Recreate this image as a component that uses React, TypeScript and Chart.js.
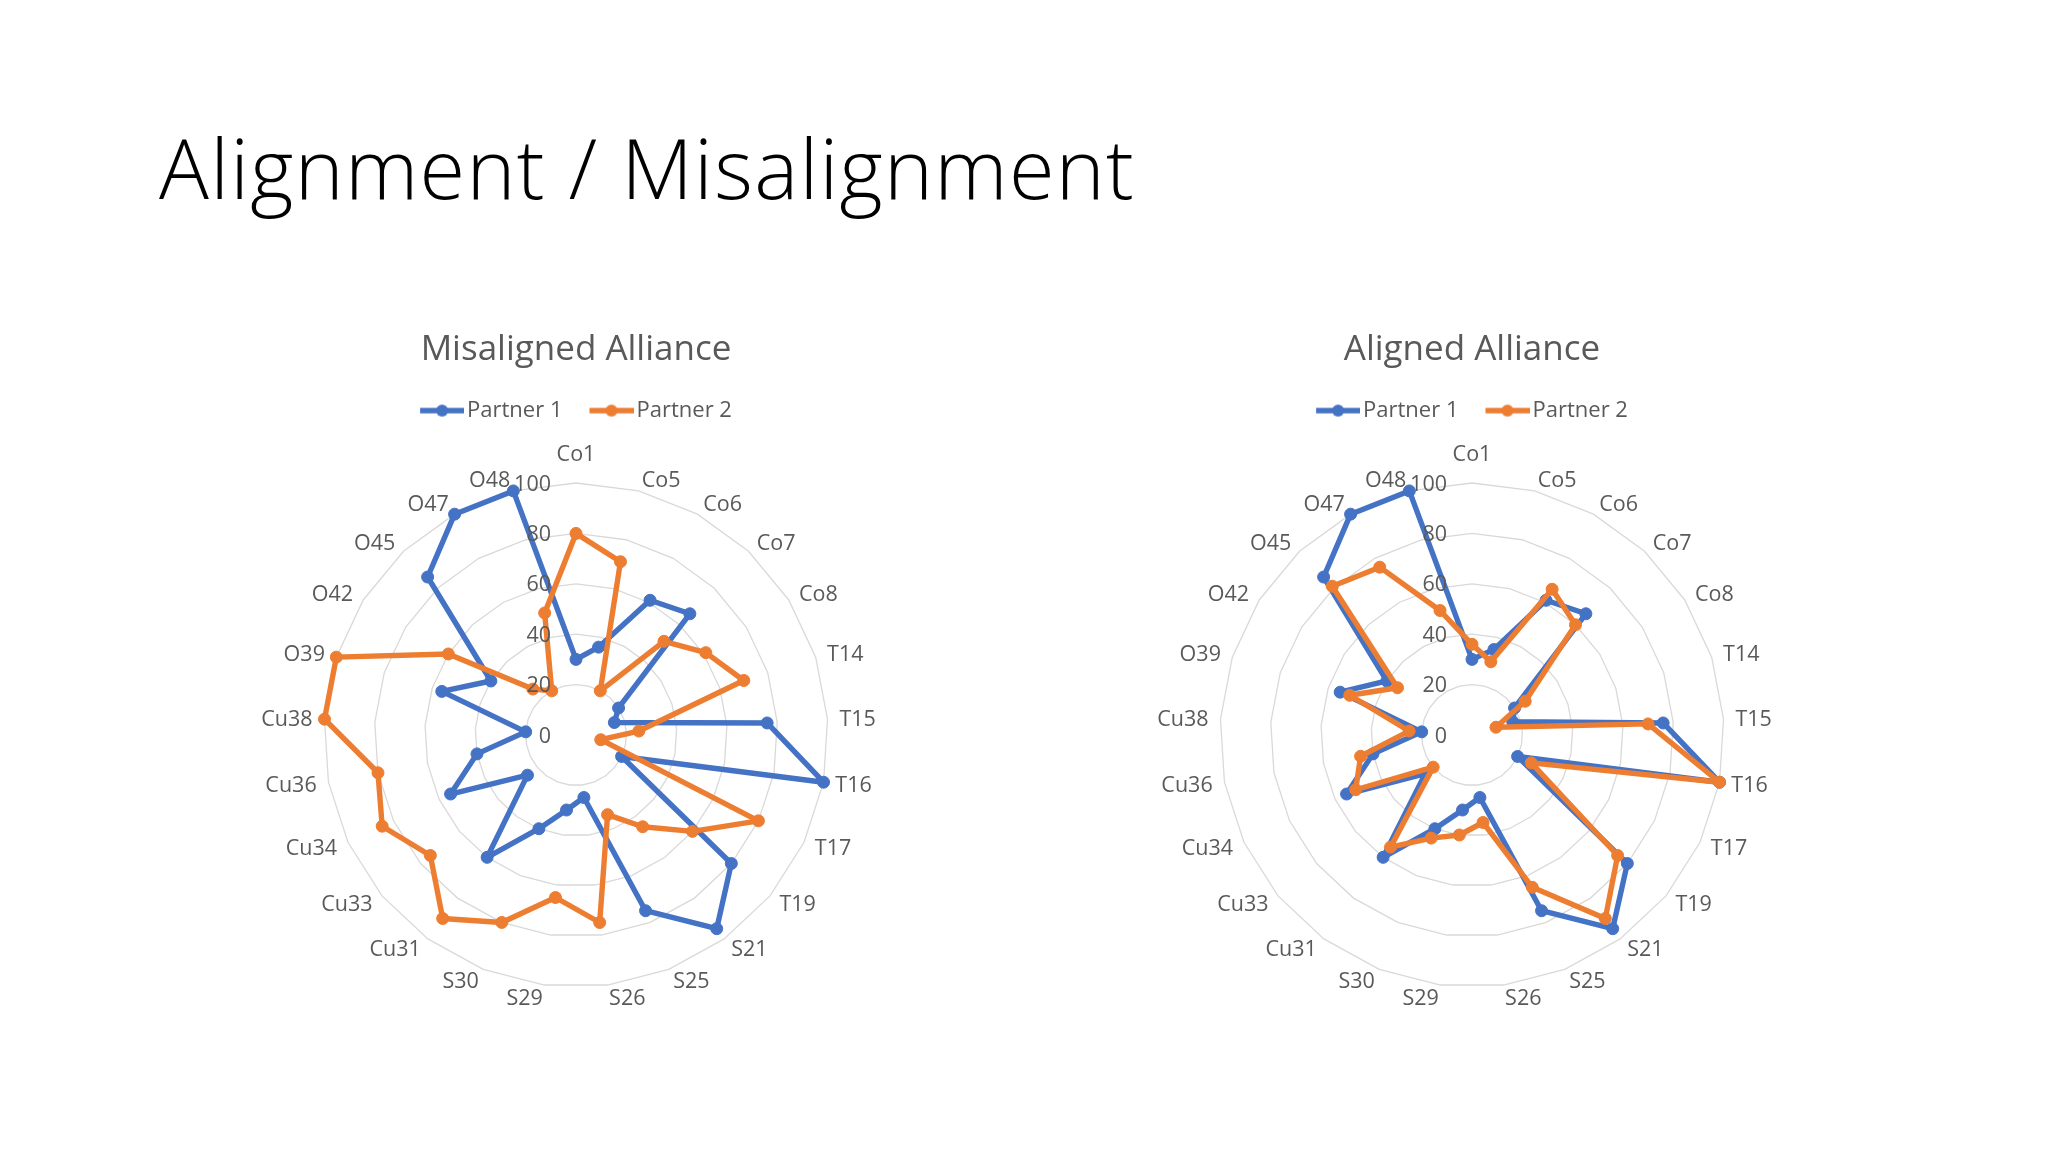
import React, { useEffect, useRef } from "react";
import { Chart, registerables } from "chart.js";

Chart.register(...registerables);

// ---------- data ----------
const categories = [
  "Co1", "Co5", "Co6", "Co7", "Co8", "T14", "T15", "T16", "T17", "T19",
  "S21", "S25", "S26", "S29", "S30", "Cu31", "Cu33", "Cu34", "Cu36", "Cu38",
  "O39", "O42", "O45", "O47", "O48",
];
const seriesNames = ["Partner 1", "Partner 2"];
const misalignedPartner1 = [30, 36, 61, 66, 20, 16, 76, 100, 20, 80, 95, 75, 25, 30, 40, 60, 25, 55, 40, 20, 56, 40, 86, 100, 100];
const misalignedPartner2 = [80, 71, 20, 51, 61, 70, 25, 10, 80, 60, 45, 34, 75, 65, 80, 90, 75, 85, 80, 100, 100, 60, 25, 20, 50];
const alignedPartner1 = [30, 35, 61, 66, 20, 17, 76, 100, 20, 80, 95, 75, 25, 30, 40, 60, 24, 55, 40, 20, 55, 40, 86, 100, 100];
const alignedPartner2 = [36, 30, 66, 60, 25, 10, 70, 100, 26, 75, 90, 65, 35, 40, 44, 55, 20, 51, 45, 25, 51, 35, 81, 76, 51];
const tickValues = [0, 20, 40, 60, 80, 100];
const pageTitle = "Alignment / Misalignment";
const chartTitles = ["Misaligned Alliance", "Aligned Alliance"];

// ---------- style ----------
const BLUE = "#4472C4";
const ORANGE = "#ED7D31";
const GRAY = "#595959";
const GRID = "#D9D9D9";
const FONT = "'Open Sans', 'Noto Sans', sans-serif";
const LABEL_SIZE = 21.5;
const LINE_W = 5.4;
const DOT_R = 6;

function legendSymbol(color: string): HTMLCanvasElement {
  // 52px wide image, centred on a 36px legend box: the visible symbol spans box x .. x+44
  const c = document.createElement("canvas");
  c.width = 52;
  c.height = 14;
  const ctx = c.getContext("2d")!;
  ctx.strokeStyle = color;
  ctx.lineWidth = LINE_W;
  ctx.beginPath();
  ctx.moveTo(8, 7);
  ctx.lineTo(52, 7);
  ctx.stroke();
  ctx.fillStyle = color;
  ctx.beginPath();
  ctx.arc(30, 7, DOT_R, 0, Math.PI * 2);
  ctx.fill();
  return c;
}

const radarTextPlugin = {
  id: "radarText",
  afterDatasetsDraw(chart: any) {
    const s = chart.scales.r;
    const ctx = chart.ctx;
    const labels: string[] = chart.data.labels;
    const n = labels.length;
    ctx.save();
    ctx.fillStyle = GRAY;
    ctx.font = `${LABEL_SIZE}px ${FONT}`;
    ctx.textBaseline = "middle";
    labels.forEach((lab, i) => {
      const p = s.getPointPosition(i, s.drawingArea + 12);
      const deg = (i * 360) / n;
      let y = p.y + 1.5;
      if (i === 0) {
        ctx.textAlign = "center";
        y -= 18;
      } else if (deg < 180) {
        ctx.textAlign = "left";
      } else {
        ctx.textAlign = "right";
      }
      ctx.fillText(lab, p.x, y);
    });
    ctx.textAlign = "right";
    tickValues.forEach((v) => {
      const d = s.getDistanceFromCenterForValue(v);
      ctx.fillText(String(v), s.xCenter - 25, s.yCenter - d + 1.5);
    });
    ctx.restore();
  },
};

function RadarPanel({ title, p1, p2, cx }: { title: string; p1: number[]; p2: number[]; cx: number }) {
  const ref = useRef<HTMLCanvasElement>(null);
  useEffect(() => {
    let chart: Chart | null = null;
    let cancelled = false;
    const make = () => {
      if (cancelled || !ref.current) return;
      const symbols = [legendSymbol(BLUE), legendSymbol(ORANGE)];
      const mk = (label: string, data: number[], color: string, order: number) => ({
        label,
        data,
        borderColor: color,
        backgroundColor: color,
        pointBackgroundColor: color,
        pointBorderColor: color,
        pointBorderWidth: 1,
        pointRadius: DOT_R,
        borderWidth: LINE_W,
        borderJoinStyle: "round" as const,
        fill: false,
        order,
      });
      chart = new Chart(ref.current, {
        type: "radar",
        data: {
          labels: categories,
          datasets: [mk(seriesNames[0], p1, BLUE, 1), mk(seriesNames[1], p2, ORANGE, 0)],
        },
        options: {
          responsive: false,
          animation: false,
          events: [],
          layout: { padding: { top: 0, bottom: 21, left: 148, right: 148 } },
          scales: {
            r: {
              min: 0,
              max: 100,
              beginAtZero: true,
              ticks: { display: false, stepSize: 20 },
              grid: { color: GRID, lineWidth: 1.3 },
              angleLines: { display: false },
              pointLabels: { display: false },
            },
          },
          plugins: {
            tooltip: { enabled: false },
            title: {
              display: true,
              text: title,
              color: GRAY,
              font: { family: FONT, size: 35, weight: "normal", lineHeight: 1 },
              padding: { top: 33, bottom: 4.6 },
            },
            legend: {
              display: true,
              position: "top",
              labels: {
                usePointStyle: true,
                pointStyleWidth: 36,
                padding: 27,
                color: GRAY,
                font: { family: FONT, size: 22 },
                sort: (a: any, b: any) => a.datasetIndex - b.datasetIndex,
                generateLabels: (ch: any) => {
                  const items = Chart.defaults.plugins.legend.labels.generateLabels(ch);
                  items.forEach((it: any) => {
                    it.pointStyle = symbols[it.datasetIndex];
                  });
                  return items;
                },
              },
            },
          },
        },
        plugins: [radarTextPlugin],
      } as any);
    };
    const fonts = (document as any).fonts;
    if (fonts && fonts.load) {
      Promise.all([fonts.load(`20px "Open Sans"`), fonts.load(`300 40px "Open Sans"`)]).then(make, make);
    } else {
      make();
    }
    return () => {
      cancelled = true;
      if (chart) chart.destroy();
    };
  }, [title, p1, p2]);
  return (
    <canvas
      ref={ref}
      width={800}
      height={760}
      style={{ position: "absolute", left: cx - 400, top: 300, width: 800, height: 760 }}
    />
  );
}

export default function App() {
  return (
    <div
      style={{
        position: "absolute",
        left: 0,
        top: 0,
        width: 2048,
        height: 1152,
        background: "#ffffff",
        overflow: "hidden",
      }}
    >
      <div
        style={{
          position: "absolute",
          left: 159,
          top: 124.6,
          fontFamily: FONT,
          fontWeight: 300,
          fontSize: 83,
          lineHeight: 1,
          letterSpacing: 1.3,
          color: "#000",
          whiteSpace: "nowrap",
        }}
      >
        {pageTitle}
      </div>
      <RadarPanel title={chartTitles[0]} p1={misalignedPartner1} p2={misalignedPartner2} cx={576} />
      <RadarPanel title={chartTitles[1]} p1={alignedPartner1} p2={alignedPartner2} cx={1472} />
    </div>
  );
}
